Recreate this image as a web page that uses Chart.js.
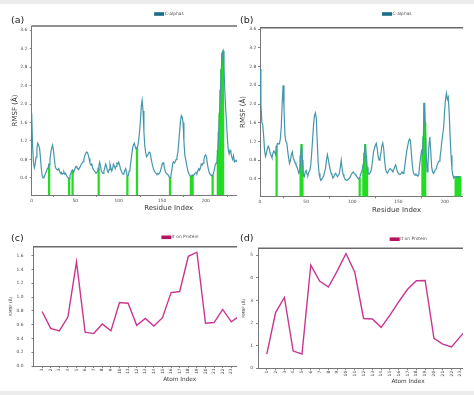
<!DOCTYPE html>
<html>
<head>
<meta charset="utf-8">
<script src="https://cdn.jsdelivr.net/npm/chart.js@4.4.0/dist/chart.umd.min.js"></script>
<style>
  html, body { margin: 0; padding: 0; background: #fff; }
  body { width: 474px; height: 395px; position: relative; overflow: hidden; font-family: "DejaVu Sans", sans-serif; }
  .band { position: absolute; left: 0; width: 474px; background: #ececec; }
  .panel { position: absolute; overflow: hidden; }
  .panel canvas { position: absolute; left: 0; top: 0; }
  .tag { position: absolute; font-size: 9.5px; line-height: 10px; color: #222; }
</style>
</head>
<body>
<div class="band" style="top:0;height:4px"></div>
<div class="band" style="top:391px;height:4px"></div>

<div class="panel" style="left:0;top:0;width:237px;height:220px"><canvas id="chartA" width="310" height="220"></canvas></div>
<div class="panel" style="left:237px;top:0;width:226px;height:220px"><canvas id="chartB" width="305" height="220"></canvas></div>
<div class="panel" style="left:0;top:225px;width:237px;height:170px"><canvas id="chartC" width="330" height="170"></canvas></div>
<div class="panel" style="left:237px;top:225px;width:226px;height:170px"><canvas id="chartD" width="326" height="170"></canvas></div>

<div class="tag" style="left:11px;top:15px">(a)</div>
<div class="tag" style="left:240px;top:15px">(b)</div>
<div class="tag" style="left:11px;top:233px">(c)</div>
<div class="tag" style="left:240px;top:233px">(d)</div>

<script>
// C-alpha RMSF, one value per residue (index = residue number)
const rmsfA = [
  1.8, 1.1, 0.75, 0.62, 0.7, 0.85, 1.05, 1.15, 1.1, 1.05,
  0.85, 0.62, 0.46, 0.4, 0.41, 0.45, 0.5, 0.55, 0.6, 0.62,
  0.7, 0.8, 0.95, 1.05, 1.11, 1.0, 0.82, 0.65, 0.6, 0.6,
  0.57, 0.6, 0.55, 0.5, 0.52, 0.48, 0.5, 0.53, 0.48, 0.5,
  0.45, 0.42, 0.4, 0.39, 0.45, 0.5, 0.55, 0.57, 0.52, 0.56,
  0.62, 0.65, 0.62, 0.6, 0.58, 0.62, 0.65, 0.7, 0.72, 0.75,
  0.8, 0.88, 0.93, 0.96, 0.95, 0.9, 0.82, 0.72, 0.68, 0.7,
  0.62, 0.58, 0.55, 0.53, 0.5, 0.5, 0.55, 0.62, 0.74, 0.68,
  0.55, 0.52, 0.5, 0.55, 0.62, 0.7, 0.65, 0.55, 0.52, 0.58,
  0.7, 0.62, 0.55, 0.6, 0.7, 0.66, 0.6, 0.65, 0.72, 0.7,
  0.74, 0.68, 0.6, 0.55, 0.5, 0.48, 0.5, 0.56, 0.6, 0.52,
  0.42, 0.45, 0.55, 0.6, 0.75, 0.9, 1.05, 1.12, 1.15, 1.08,
  1.03, 1.05, 1.1, 1.22, 1.4, 1.65, 1.95, 2.08, 1.85, 1.4,
  1.1, 0.95, 0.86, 0.88, 0.92, 0.96, 0.95, 0.85, 0.75, 0.66,
  0.6, 0.55, 0.52, 0.5, 0.48, 0.5, 0.48, 0.5, 0.55, 0.62,
  0.7, 0.73, 0.68, 0.58, 0.52, 0.5, 0.48, 0.46, 0.42, 0.4,
  0.45, 0.55, 0.7, 0.75, 0.72, 0.75, 0.8, 0.85, 0.95, 1.15,
  1.4, 1.62, 1.75, 1.72, 1.6, 1.2, 0.9, 0.8, 0.7, 0.6,
  0.52, 0.48, 0.45, 0.44, 0.44, 0.46, 0.45, 0.48, 0.5, 0.52,
  0.5, 0.55, 0.6, 0.57, 0.62, 0.7, 0.68, 0.72, 0.8, 0.88,
  0.9, 0.85, 0.7, 0.6, 0.52, 0.48, 0.46, 0.45, 0.46, 0.5,
  0.58, 0.68, 0.72, 0.75, 1.0, 1.4, 1.8, 2.3, 2.75, 3.1,
  3.15, 2.8, 2.3, 1.9, 1.6, 1.25, 1.0, 0.92, 1.0, 0.95,
  0.85, 0.8, 0.88, 0.75, 0.78, 0.76, 0.8
];
const contactsA = [20, 43, 47, 77, 110, 121, 159, 183, 184, 185, 208, 214, 215, 216, 217, 218, 219, 220];

const rmsfB = [
  2.75, 2.0, 1.62, 1.55, 1.3, 1.0, 0.88, 0.95, 1.05, 1.1,
  1.05, 0.95, 0.9, 0.85, 0.95, 1.0, 0.96, 0.92, 1.1, 1.16,
  1.15, 1.15, 1.25, 1.5, 2.0, 2.4, 1.9, 1.35, 1.2, 1.18,
  1.0, 0.85, 0.73, 0.8, 0.92, 0.98, 0.85, 0.8, 0.75, 0.7,
  0.66, 0.6, 0.52, 0.55, 0.9, 1.14, 0.8, 0.48, 0.45, 0.55,
  0.58, 0.5, 0.48, 0.55, 0.58, 0.7, 0.95, 1.25, 1.55, 1.75,
  1.81, 1.7, 1.2, 0.75, 0.52, 0.42, 0.37, 0.4, 0.42, 0.47,
  0.55, 0.62, 0.8, 0.92, 0.82, 0.7, 0.6, 0.52, 0.48, 0.42,
  0.45, 0.5, 0.52, 0.48, 0.45, 0.48, 0.52, 0.65, 0.8, 0.62,
  0.5, 0.45, 0.4, 0.38, 0.37, 0.38, 0.4, 0.42, 0.45, 0.5,
  0.53, 0.55, 0.52, 0.5, 0.48, 0.45, 0.42, 0.4, 0.42, 0.5,
  0.55, 0.62, 0.7, 0.95, 1.14, 0.9, 0.65, 0.55, 0.5, 0.52,
  0.55, 0.65, 0.8, 0.98, 1.05, 1.12, 1.16, 1.05, 0.88, 0.8,
  0.85, 0.95, 1.1, 1.17, 1.05, 0.8, 0.62, 0.55, 0.52, 0.56,
  0.6, 0.62, 0.6, 0.58, 0.55, 0.6, 0.66, 0.7, 0.62, 0.55,
  0.52, 0.5, 0.5, 0.52, 0.55, 0.52, 0.55, 0.7, 0.85, 1.0,
  1.1, 1.2, 1.25, 1.22, 0.95, 0.7, 0.55, 0.5, 0.48, 0.5,
  0.48, 0.46, 0.5, 0.7, 0.85, 1.0, 0.95, 1.3, 2.02, 1.6,
  1.0, 0.55, 0.7, 1.1, 1.3, 1.0, 0.65, 0.55, 0.52, 0.55,
  0.6, 0.62, 0.7, 0.75, 0.78, 0.85, 1.0, 1.2, 1.35, 1.5,
  1.85, 2.1, 2.23, 2.1, 2.15, 1.8, 1.3, 0.9, 0.6, 0.48,
  0.42, 0.45, 0.44, 0.45, 0.44, 0.45, 0.44, 0.45
];
const contactsB = [18, 44, 45, 46, 108, 112, 113, 114, 115, 116, 176, 177, 178, 179, 212, 213, 214, 215, 216, 217];

// ligand RMSF per atom
const atomLabels = ['1', '2', '3', '4', '5', '6', '7', '8', '9', '10', '11', '12',
  '13', '14', '15', '16', '17', '18', '19', '20', '21', '22', '23', '24'];
const ligandC = [0.79, 0.545, 0.51, 0.71, 1.51, 0.49, 0.47, 0.61, 0.51, 0.92, 0.91, 0.59,
  0.69, 0.58, 0.70, 1.065, 1.08, 1.59, 1.65, 0.62, 0.63, 0.82, 0.64, 0.73];
const ligandD = [0.63, 2.46, 3.13, 0.76, 0.63, 4.56, 3.85, 3.59, 4.29, 5.07, 4.24, 2.2,
  2.18, 1.81, 2.35, 2.94, 3.49, 3.87, 3.88, 1.32, 1.07, 0.94, 1.40, 1.85];

const resTicks = [0, 50, 100, 150, 200, 250, 300];
const rmsfTicks = [0.4, 0.8, 1.2, 1.6, 2.0, 2.4, 2.8, 3.2, 3.6];
const ticksC = [0, 0.2, 0.4, 0.6, 0.8, 1.0, 1.2, 1.4, 1.6];
const ticksD = [0, 1, 2, 3, 4, 5];

const FONT = 'DejaVu Sans';

// top spine + small legend centred over the plot
const framePlugin = {
  id: 'frame',
  afterDraw(chart, args, o) {
    const { ctx, chartArea: a } = chart;
    ctx.save();
    ctx.strokeStyle = '#6b6b6b';
    ctx.lineWidth = 1.5;
    ctx.beginPath();
    ctx.moveTo(a.left, a.top);
    ctx.lineTo(a.right, a.top);
    ctx.stroke();

    const label = chart.data.datasets[0].label;
    ctx.font = '4.4px "' + FONT + '"';
    const tw = ctx.measureText(label).width;
    const x0 = (a.left + a.right) / 2 - (10 + tw) / 2;
    const y = a.top - o.dy;
    ctx.fillStyle = o.box;
    ctx.fillRect(x0, y - 1.8, 10, 3.6);
    ctx.fillStyle = '#555';
    ctx.textBaseline = 'middle';
    ctx.fillText(label, x0 + 10.5, y);
    ctx.restore();
  }
};

function axis(o) {
  return {
    type: 'linear',
    min: o.min,
    max: o.max,
    offset: false,
    afterFit: s => {
      if (o.w != null) s.width = o.w;
      if (o.h != null) s.height = o.h;
    },
    afterBuildTicks: s => { s.ticks = o.ticks.map(v => ({ value: v })); },
    grid: { display: true, drawOnChartArea: false, drawTicks: true, tickLength: 2, color: '#666', lineWidth: 0.8 },
    border: { display: true, color: '#777', width: 1 },
    ticks: {
      autoSkip: false,
      minRotation: o.rot || 0,
      maxRotation: o.rot || 0,
      padding: o.tp,
      color: '#4a4a4a',
      font: { family: FONT, size: o.fs },
      callback: o.fmt
    },
    title: {
      display: true,
      text: o.title,
      color: '#3a3a3a',
      font: { family: FONT, size: o.tfs },
      padding: o.tpad
    }
  };
}

function residueChart(id, rmsf, contacts, c) {
  return new Chart(document.getElementById(id), {
    type: 'line',
    data: {
      datasets: [{
        label: 'C-alphas',
        data: rmsf.map((v, i) => ({ x: i, y: v })),
        borderColor: '#4596ab',
        borderWidth: 1.2,
        pointRadius: 0,
        tension: 0
      }, {
        type: 'bar',
        label: 'contacts',
        data: contacts.map(r => ({ x: r, y: rmsf[r] })),
        backgroundColor: '#22dd22',
        barThickness: 1.6,
        grouped: false
      }]
    },
    options: {
      responsive: false,
      animation: false,
      layout: { padding: c.pad },
      plugins: { legend: { display: false }, tooltip: { enabled: false }, frame: { dy: c.dy, box: '#1b6e88' } },
      scales: {
        x: axis({ min: 0, max: c.xmax, h: c.xh, ticks: resTicks, fs: 4.4, tp: 1, fmt: v => String(v),
          title: 'Residue Index', tfs: 7, tpad: { top: 0, bottom: c.xtp } }),
        y: axis({ min: 0.03, max: c.ymax, w: c.yw, ticks: rmsfTicks, fs: 4.4, tp: c.ytp, fmt: v => v.toFixed(1),
          title: 'RMSF (\u00c5)', tfs: 7, tpad: { top: c.ytitle, bottom: 0 } })
      }
    },
    plugins: [framePlugin]
  });
}

function atomChart(id, vals, c) {
  return new Chart(document.getElementById(id), {
    type: 'line',
    data: {
      datasets: [{
        label: 'it on Protein',
        data: vals.map((v, i) => ({ x: i + 1, y: v })),
        borderColor: '#c93692',
        borderWidth: 1.4,
        pointRadius: 0,
        tension: 0
      }]
    },
    options: {
      responsive: false,
      animation: false,
      layout: { padding: c.pad },
      plugins: { legend: { display: false }, tooltip: { enabled: false }, frame: { dy: c.dy, box: '#b8135f' } },
      scales: {
        x: axis({ min: 0, max: c.xmax, h: c.xh, ticks: atomLabels.map((l, i) => i + 1), fs: 4.4, tp: 0.5, rot: 90,
          fmt: (v, i) => atomLabels[i], title: 'Atom Index', tfs: 5.8, tpad: { top: 0, bottom: c.xtp } }),
        y: axis({ min: 0, max: c.ymax, w: c.yw, ticks: c.yticks, fs: 4.4, tp: c.ytp, fmt: c.yfmt,
          title: 'RMSF (\u00c5)', tfs: 4.2, tpad: { top: c.ytitle, bottom: 0 } })
      }
    },
    plugins: [framePlugin]
  });
}

residueChart('chartA', rmsfA, contactsA, {
  pad: { top: 26, right: 4.3, left: 0, bottom: 0 }, xmax: 315, xh: 25, xtp: 7.8,
  ymax: 3.69, yw: 31.7, ytp: 2.4, ytitle: 10.8, dy: 12
});
residueChart('chartB', rmsfB, contactsB, {
  pad: { top: 27.7, right: 5, left: 0, bottom: 0 }, xmax: 296, xh: 23.7, xtp: 5.8,
  ymax: 3.63, yw: 23, ytp: 1.7, ytitle: 1.8, dy: 13.7
});
atomChart('chartC', ligandC, {
  pad: { top: 21.7, right: 4.1, left: 0, bottom: 0 }, xmax: 34, xh: 29, xtp: 11.6,
  ymax: 1.73, yw: 33.5, yticks: ticksC, yfmt: v => v.toFixed(1), ytp: 8, ytitle: 8.6, dy: 9.4
});
atomChart('chartD', ligandD, {
  pad: { top: 23.3, right: 5, left: 0, bottom: 0 }, xmax: 34.1, xh: 26.7, xtp: 9.9,
  ymax: 5.3, yw: 21, yticks: ticksD, yfmt: v => String(v), ytp: 3, ytitle: 4.3, dy: 9.1
});
</script>
</body>
</html>
